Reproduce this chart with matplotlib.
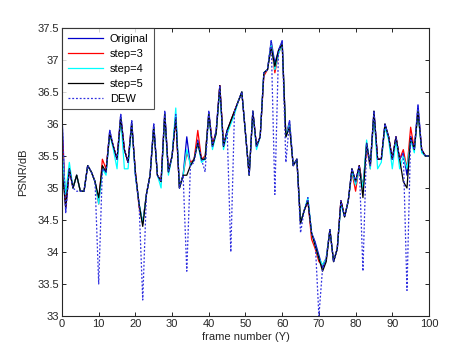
import matplotlib
matplotlib.use("Agg")
import matplotlib.pyplot as plt
import numpy as np

plt.rcParams['font.family'] = ['Liberation Sans', 'DejaVu Sans']

frames = list(range(0, 101))

original = [36.15, 34.65, 35.30, 35.00, 35.20, 34.95, 34.95, 35.35, 35.25, 35.10,
            34.80, 35.30, 35.25, 35.90, 35.65, 35.45, 36.15, 35.60, 35.40, 36.05,
            35.20, 34.75, 34.45, 34.90, 35.20, 36.00, 35.20, 35.10, 36.20, 35.25,
            35.50, 36.15, 35.00, 35.20, 35.80, 35.35, 35.45, 35.75, 35.45, 35.45,
            36.20, 35.65, 35.90, 36.60, 35.65, 35.90, 36.05, 36.20, 36.35, 36.50,
            35.85, 35.20, 36.20, 35.65, 35.80, 36.80, 36.85, 37.30, 36.95, 37.15,
            37.30, 35.80, 36.05, 35.35, 35.45, 34.45, 34.65, 34.80, 34.30, 34.15,
            33.95, 33.75, 33.90, 34.35, 33.85, 34.05, 34.80, 34.55, 34.80, 35.30,
            35.10, 35.35, 35.00, 35.70, 35.35, 36.20, 35.45, 35.45, 36.00, 35.80,
            35.45, 35.80, 35.45, 35.55, 35.20, 35.80, 35.60, 36.30, 35.60, 35.50,
            35.50]

step3 = [35.90, 34.70, 35.30, 35.00, 35.20, 34.95, 34.95, 35.35, 35.25, 35.10,
         34.75, 35.45, 35.30, 35.85, 35.65, 35.45, 36.10, 35.60, 35.40, 36.00,
         35.25, 34.70, 34.45, 34.90, 35.20, 35.95, 35.20, 35.10, 36.15, 35.25,
         35.50, 36.10, 35.00, 35.20, 35.55, 35.40, 35.45, 35.90, 35.45, 35.50,
         36.15, 35.70, 35.85, 36.60, 35.70, 35.85, 36.05, 36.20, 36.35, 36.50,
         35.85, 35.20, 36.20, 35.65, 35.80, 36.75, 36.85, 37.25, 36.80, 37.10,
         37.25, 35.80, 36.00, 35.35, 35.45, 34.45, 34.65, 34.80, 34.20, 34.05,
         33.85, 33.80, 33.90, 34.35, 33.85, 34.05, 34.80, 34.55, 34.80, 35.25,
         34.95, 35.35, 35.00, 35.65, 35.30, 36.15, 35.45, 35.45, 35.95, 35.80,
         35.45, 35.80, 35.45, 35.60, 35.30, 35.95, 35.60, 36.20, 35.60, 35.50,
         35.50]

step4 = [35.60, 34.90, 35.40, 35.00, 35.20, 34.95, 34.95, 35.35, 35.25, 35.10,
         34.75, 35.30, 35.20, 35.85, 35.60, 35.30, 36.10, 35.30, 35.30, 36.00,
         35.20, 34.75, 34.45, 34.90, 35.20, 35.95, 35.20, 35.00, 36.15, 35.20,
         35.50, 36.25, 35.00, 35.20, 35.60, 35.35, 35.45, 35.70, 35.40, 35.45,
         36.15, 35.60, 35.85, 36.55, 35.60, 35.85, 36.00, 36.15, 36.35, 36.50,
         35.85, 35.20, 36.20, 35.60, 35.80, 36.80, 36.85, 37.25, 36.85, 37.10,
         37.25, 35.80, 36.00, 35.35, 35.45, 34.45, 34.65, 34.85, 34.30, 34.10,
         33.90, 33.80, 33.90, 34.35, 33.85, 34.05, 34.75, 34.55, 34.80, 35.25,
         35.05, 35.30, 35.00, 35.75, 35.30, 36.15, 35.30, 35.40, 35.95, 35.75,
         35.30, 35.75, 35.30, 35.50, 35.30, 35.75, 35.55, 36.20, 35.55, 35.50,
         35.50]

step5 = [35.30, 34.70, 35.30, 35.00, 35.20, 34.95, 34.95, 35.35, 35.25, 35.10,
         34.85, 35.35, 35.25, 35.85, 35.65, 35.45, 36.10, 35.60, 35.40, 36.00,
         35.25, 34.75, 34.40, 34.90, 35.20, 35.95, 35.20, 35.10, 36.15, 35.25,
         35.50, 36.10, 35.00, 35.20, 35.20, 35.35, 35.45, 35.70, 35.45, 35.45,
         36.15, 35.65, 35.85, 36.60, 35.65, 35.90, 36.05, 36.20, 36.35, 36.50,
         35.85, 35.20, 36.20, 35.65, 35.80, 36.80, 36.85, 37.20, 36.90, 37.15,
         37.25, 35.80, 35.95, 35.35, 35.45, 34.45, 34.65, 34.80, 34.30, 34.10,
         33.90, 33.70, 33.85, 34.35, 33.85, 34.05, 34.80, 34.55, 34.80, 35.30,
         35.10, 35.35, 34.85, 35.70, 35.35, 36.20, 35.45, 35.45, 36.00, 35.80,
         35.45, 35.80, 35.45, 35.10, 35.00, 35.80, 35.60, 36.20, 35.60, 35.50,
         35.50]

dew = [36.10, 34.60, 35.30, 35.00, 34.95, 34.95, 34.95, 35.35, 35.25, 35.10,
       33.50, 35.30, 35.25, 35.90, 35.65, 35.45, 36.15, 35.60, 35.40, 36.05,
       35.20, 34.75, 33.25, 34.90, 35.20, 36.00, 35.20, 35.10, 36.20, 35.25,
       35.50, 36.15, 35.00, 35.20, 33.70, 35.35, 35.40, 35.75, 35.45, 35.25,
       36.20, 35.65, 35.90, 36.60, 35.65, 35.90, 34.00, 36.20, 36.35, 36.50,
       35.85, 35.20, 36.20, 35.65, 35.80, 36.80, 36.85, 37.30, 34.90, 37.15,
       37.30, 35.40, 36.05, 35.35, 35.45, 34.30, 34.65, 34.85, 34.30, 34.15,
       33.00, 33.75, 33.90, 34.35, 33.85, 34.05, 34.80, 34.55, 34.80, 35.30,
       35.10, 35.35, 33.70, 35.70, 35.35, 36.20, 35.45, 35.45, 36.00, 35.80,
       35.45, 35.80, 35.45, 35.55, 33.40, 35.80, 35.60, 36.30, 35.60, 35.50,
       35.50]

labels = ['Original', 'step=3', 'step=4', 'step=5', 'DEW']
xticks = list(range(0, 101, 10))
yticks = [33, 33.5, 34, 34.5, 35, 35.5, 36, 36.5, 37, 37.5]
ytick_labels = ['33', '33.5', '34', '34.5', '35', '35.5', '36', '36.5', '37', '37.5']

fig = plt.figure(figsize=(4.74, 3.55), dpi=100)
ax = fig.add_axes([62/474, 1 - 316/355, (429-62)/474, (316-28)/355])

ax.plot(frames, original, color='#0000cc', lw=0.9, label=labels[0])
ax.plot(frames, step3, color='#ff0000', lw=0.9, label=labels[1])
ax.plot(frames, step4, color='#00ffff', lw=0.9, label=labels[2])
ax.plot(frames, step5, color='#000000', lw=0.9, label=labels[3])
ax.plot(frames, dew, color='#3030e0', lw=0.9, ls=(0, (1.5, 1.5)), label=labels[4])

ax.set_xlim(0, 100)
ax.set_ylim(33, 37.5)
ax.set_xticks(xticks)
ax.set_xticklabels([str(t) for t in xticks])
ax.set_yticks(yticks)
ax.set_yticklabels(ytick_labels)
ax.tick_params(direction='in', top=True, right=True, length=3, width=0.7,
               labelsize=8, colors='#262626', pad=2)
for s in ax.spines.values():
    s.set_linewidth(0.8)
    s.set_color('#262626')

ax.set_xlabel('frame number (Y)', fontsize=8, color='#262626', labelpad=2)
ax.set_ylabel('PSNR/dB', fontsize=8, color='#262626', labelpad=7)

leg = ax.legend(loc='upper left', fontsize=8, frameon=True, fancybox=False,
                edgecolor='#262626', handlelength=3.2, borderaxespad=0,
                labelspacing=0.45, handletextpad=0.6, borderpad=0.5)
leg.get_frame().set_linewidth(0.8)

fig.savefig('out.png', dpi=100, facecolor='white')
